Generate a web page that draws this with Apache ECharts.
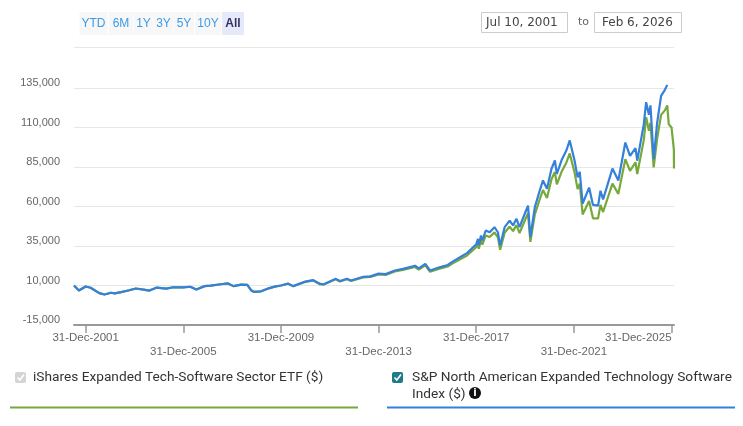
<!DOCTYPE html>
<html>
<head>
<meta charset="utf-8">
<script src="https://cdn.jsdelivr.net/npm/echarts@6/dist/echarts.min.js"></script>
<style>
html,body{margin:0;padding:0;background:#fff;}
#c{width:743px;height:426px;}
</style>
</head>
<body>
<div id="c"></div>
<script>
// ---- data ----
const dates = [
 '2001-07-10','2001-09-21','2001-12-31','2002-03-15','2002-07-23','2002-10-09','2003-01-15','2003-03-11',
 '2003-06-15','2003-10-15','2004-01-20','2004-05-15','2004-08-12','2004-11-30','2005-04-20','2005-08-01',
 '2005-12-31','2006-04-15','2006-07-15','2006-11-15','2007-02-15','2007-07-15','2007-10-31','2008-01-20',
 '2008-05-15','2008-08-15','2008-10-10','2008-11-20','2009-03-09','2009-06-15','2009-09-30','2009-12-31',
 '2010-04-15','2010-07-01','2010-12-31','2011-04-29','2011-08-08','2011-10-03','2012-03-30','2012-06-01',
 '2012-09-14','2012-11-15','2013-05-15','2013-08-30','2013-12-31','2014-04-15','2014-09-01','2014-12-31',
 '2015-06-30','2015-08-24','2015-11-30','2016-02-09','2016-06-30','2016-10-31','2016-12-31','2017-06-15',
 '2017-08-15','2017-12-31',
 '2018-01-26','2018-02-08','2018-03-12','2018-04-02','2018-05-22','2018-07-20','2018-09-30','2018-11-20',
 '2018-12-24','2019-03-01','2019-05-15','2019-07-05','2019-08-25','2019-10-10','2019-12-27','2020-02-14',
 '2020-03-20','2020-05-26','2020-08-07','2020-09-25','2020-11-24','2021-01-30','2021-03-22','2021-04-20',
 '2021-06-28','2021-09-09','2021-10-30','2022-01-10','2022-02-25','2022-03-29','2022-05-11','2022-08-16',
 '2022-10-13','2022-12-28','2023-02-02','2023-03-13','2023-07-31','2023-10-27','2024-02-09','2024-04-19',
 '2024-07-10','2024-08-05','2024-11-11','2024-12-16','2025-01-27','2025-02-19','2025-04-08','2025-05-30',
 '2025-07-28','2025-09-25','2025-10-28','2025-11-20','2025-12-31','2026-01-15','2026-02-04','2026-02-06'
];
// iShares Expanded Tech-Software Sector ETF (green)
const etfValues = [
 10000,6800,9400,8600,5200,4300,5400,5000,
 5800,7000,8100,7400,6800,8700,8000,8900,
 8800,9200,7500,9600,9900,10800,11300,9600,
 10600,10400,7000,6000,6300,8000,9300,10000,
 11100,9500,12300,13200,10800,10600,13900,12500,
 14000,12900,15100,15400,17000,16700,18900,19800,
 21700,20000,22800,18700,20600,22000,23700,27600,
 29000,34200,
 37000,33200,38900,35900,41700,40700,43600,40500,
 32600,43400,47300,44400,48200,43200,51000,55800,
 37600,55000,64600,70400,65400,77200,81800,74000,
 81800,87700,93600,81500,71000,74500,55000,63500,
 52500,52500,61000,56500,74500,68000,90000,82500,
 88000,80500,102000,116500,108000,113000,84700,103000,
 118000,121000,124000,112000,110000,104000,96000,84000
];
// S&P North American Expanded Technology Software Index (blue) - ends Oct 2025
const indexValues = [
 10000,6800,9400,8600,5200,4300,5400,5000,
 5800,7000,8100,7400,6800,8700,8000,8900,
 8800,9200,7500,9600,9900,10800,11300,9600,
 10600,10400,7000,6000,6300,8000,9300,10000,
 11200,9600,12500,13400,11000,10800,14200,12800,
 14300,13200,15500,15800,17500,17200,19500,20500,
 22500,20800,23700,19500,21500,23000,24800,29000,
 30500,36000,
 39500,35500,41600,38500,44800,43700,46900,43700,
 35300,46900,51100,48000,52200,46900,55400,60600,
 40600,59600,70100,76500,71200,83900,89100,80600,
 89100,95400,101800,89100,78400,82000,61900,72000,
 61000,60500,70000,64500,84000,76500,100500,92000,
 97000,89000,112000,126000,118000,124000,90000,113000,
 130000,134000,137000
];
const tickDates = ['2001-12-31','2005-12-31','2009-12-31','2013-12-31','2017-12-31','2021-12-31','2025-12-31'];
const tickLabels = ['31-Dec-2001','31-Dec-2005','31-Dec-2009','31-Dec-2013','31-Dec-2017','31-Dec-2021','31-Dec-2025'];
const rangeButtons = ['YTD','6M','1Y','3Y','5Y','10Y','All'];
const fromDate = 'Jul 10, 2001';
const toDate = 'Feb 6, 2026';
const legendNames = ['iShares Expanded Tech-Software Sector ETF ($)', 'S&P North American Expanded Technology Software', 'Index ($)'];

// ---- build ----
const t = s => new Date(s + 'T00:00:00Z').getTime();
const tickTimes = tickDates.map(t);
const row1Ticks = tickTimes.filter((v, i) => i % 2 === 0);
const row2Ticks = tickTimes.filter((v, i) => i % 2 === 1);
const etfData = dates.map((d, i) => [t(d), etfValues[i]]);
const indexData = indexValues.map((v, i) => [t(dates[i]), v]);
const labelFor = val => {
  const idx = tickTimes.findIndex(x => Math.abs(x - val) < 86400000);
  return idx < 0 ? '' : tickLabels[idx];
};

const GREEN = '#77a83a';
const BLUE = '#3580db';

const btnCenters = [93.5, 121, 143.5, 163.5, 184, 208, 233];
const btnWidths = [28, 24, 20, 20, 20, 26, 22];
const graphics = [];
rangeButtons.forEach((b, i) => {
  const sel = b === 'All';
  graphics.push({
    type: 'rect', silent: true,
    shape: { x: btnCenters[i] - btnWidths[i] / 2, y: 12, width: btnWidths[i], height: 23 },
    style: { fill: sel ? '#e6e9fa' : '#f7f7f7' }
  });
  graphics.push({
    type: 'text', silent: true,
    x: btnCenters[i], y: 23.5,
    style: { text: b, fill: sel ? '#333366' : '#3d9be6', font: (sel ? 'bold ' : '') + '12px "Liberation Sans", Arial, sans-serif', align: 'center', verticalAlign: 'middle' }
  });
});
graphics.push({ type: 'line', silent: true, shape: { x1: 74, y1: 47.5, x2: 674, y2: 47.5 }, style: { stroke: '#e6e6e6', lineWidth: 1 } });
// date inputs
graphics.push({ type: 'rect', silent: true, shape: { x: 481.5, y: 12.5, width: 86, height: 20 }, style: { fill: '#fff', stroke: '#cccccc', lineWidth: 1 } });
graphics.push({ type: 'text', silent: true, x: 486, y: 22.5, style: { text: fromDate, fill: '#444', font: '12px "DejaVu Sans", sans-serif', verticalAlign: 'middle' } });
graphics.push({ type: 'text', silent: true, x: 578, y: 22.5, style: { text: 'to', fill: '#666', font: '11px "DejaVu Sans", sans-serif', verticalAlign: 'middle' } });
graphics.push({ type: 'rect', silent: true, shape: { x: 594.5, y: 12.5, width: 87, height: 20 }, style: { fill: '#fff', stroke: '#cccccc', lineWidth: 1 } });
graphics.push({ type: 'text', silent: true, x: 602, y: 22.5, style: { text: toDate, fill: '#444', font: '12px "DejaVu Sans", sans-serif', verticalAlign: 'middle' } });

// legend 1
graphics.push({ type: 'rect', silent: true, shape: { x: 15, y: 372, width: 11, height: 11, r: 2 }, style: { fill: '#d4d4d4' } });
graphics.push({ type: 'polyline', silent: true, shape: { points: [[17.5, 377.5], [19.8, 380], [24, 374.5]] }, style: { stroke: '#fff', lineWidth: 1.6, fill: null } });
graphics.push({ type: 'text', silent: true, x: 33, y: 378, style: { text: legendNames[0], fill: '#333', font: '13.7px Roboto, sans-serif', verticalAlign: 'middle' } });
graphics.push({ type: 'line', silent: true, shape: { x1: 10, y1: 407.5, x2: 358, y2: 407.5 }, style: { stroke: GREEN, lineWidth: 2 } });
// legend 2
graphics.push({ type: 'rect', silent: true, shape: { x: 392, y: 372, width: 11, height: 11, r: 2 }, style: { fill: '#1f7a8a' } });
graphics.push({ type: 'polyline', silent: true, shape: { points: [[394.5, 377.5], [396.8, 380], [401, 374.5]] }, style: { stroke: '#fff', lineWidth: 1.6, fill: null } });
graphics.push({ type: 'text', silent: true, x: 412, y: 378, style: { text: legendNames[1], fill: '#333', font: '13.7px Roboto, sans-serif', verticalAlign: 'middle' } });
graphics.push({ type: 'text', silent: true, x: 412, y: 395, style: { text: legendNames[2], fill: '#333', font: '13.7px Roboto, sans-serif', verticalAlign: 'middle' } });
graphics.push({ type: 'circle', silent: true, shape: { cx: 475, cy: 393, r: 6 }, style: { fill: '#111' } });
graphics.push({ type: 'text', silent: true, x: 475, y: 393.5, style: { text: 'i', fill: '#fff', font: 'bold 10px "DejaVu Sans", sans-serif', align: 'center', verticalAlign: 'middle' } });
graphics.push({ type: 'line', silent: true, shape: { x1: 387, y1: 407.5, x2: 735, y2: 407.5 }, style: { stroke: BLUE, lineWidth: 2 } });

const xMin = t('2001-07-10'), xMax = t('2026-02-06');
const labelBase = {
  color: '#666', fontSize: 11.5, fontFamily: '"Liberation Sans", Arial, sans-serif',
  verticalAlign: 'top', showMinLabel: true, showMaxLabel: true, hideOverlap: false,
  formatter: labelFor
};

const chart = echarts.init(document.getElementById('c'), null, { renderer: 'canvas' });
chart.setOption({
  animation: false,
  backgroundColor: '#fff',
  grid: { left: 74, right: 69, top: 88, bottom: 101, containLabel: false },
  xAxis: [{
    type: 'value', min: xMin, max: xMax, position: 'bottom',
    axisLine: { onZero: false, lineStyle: { color: '#999', width: 2 } },
    axisTick: { show: true, customValues: tickTimes, length: 8, lineStyle: { color: '#999', width: 1.5 } },
    splitLine: { show: false },
    axisLabel: Object.assign({}, labelBase, { customValues: row1Ticks, margin: 7, alignMinLabel: 'center', alignMaxLabel: 'right' })
  }, {
    type: 'value', min: xMin, max: xMax, position: 'bottom',
    axisLine: { show: false, onZero: false },
    axisTick: { show: false },
    splitLine: { show: false },
    axisLabel: Object.assign({}, labelBase, { customValues: row2Ticks, margin: 21, alignMinLabel: 'center', alignMaxLabel: 'center' })
  }],
  yAxis: {
    type: 'value',
    min: -15000, max: 135000, interval: 25000,
    axisLine: { show: false },
    axisTick: { show: false },
    splitLine: { lineStyle: { color: '#e6e6e6', width: 1 } },
    axisLabel: {
      margin: 14,
      color: '#666',
      fontSize: 11,
      fontFamily: '"Liberation Sans", Arial, sans-serif',
      verticalAlign: 'bottom',
      lineHeight: 10,
      formatter: v => v.toLocaleString('en-US')
    }
  },
  series: [
    { name: legendNames[0], type: 'line', xAxisIndex: 0, data: etfData, showSymbol: false, clip: false,
      lineStyle: { color: GREEN, width: 2.2 }, itemStyle: { color: GREEN }, z: 2 },
    { name: legendNames[1] + ' ' + legendNames[2], type: 'line', xAxisIndex: 0, data: indexData, showSymbol: false, clip: false,
      lineStyle: { color: BLUE, width: 2.2 }, itemStyle: { color: BLUE }, z: 3 }
  ],
  graphic: graphics
});
</script>
</body>
</html>
